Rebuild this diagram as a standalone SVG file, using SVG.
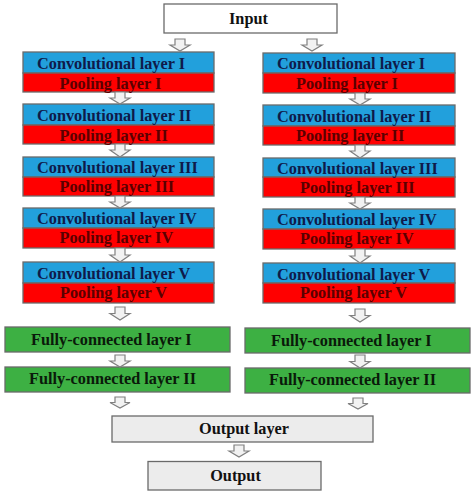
<svg xmlns="http://www.w3.org/2000/svg" width="474" height="498" viewBox="0 0 474 498">
<style>
  text { font-family: "Liberation Serif", "Times New Roman", serif; font-weight: bold; font-size: 16.3px; }
  .box { stroke: #6a6a6a; stroke-width: 1.3; }
  .conv { fill: #22a0dc; }
  .pool { fill: #ff0000; }
  .fc { fill: #3db043; }
  .gray { fill: #ececec; }
  .white { fill: #ffffff; }
  .tconv { fill: #0f1a4a; }
  .tpool { fill: #5a0000; }
  .tfc { fill: #0a1a0a; }
  .tdark { fill: #111111; }
  .mid { text-anchor: middle; }
  .arrow { fill: #f2f2f2; stroke: #808080; stroke-width: 1.2; stroke-linejoin: miter; }
</style>
<rect width="474" height="498" fill="#ffffff"/>

<g id="input">
  <rect class="box white" x="164" y="4" width="173" height="29"/>
  <text class="tdark mid" x="248.5" y="24">Input</text>
</g>

<g id="left-block-1">
  <rect class="box conv" x="23" y="52" width="191" height="21"/>
  <rect class="box pool" x="23" y="73" width="191" height="19"/>
  <text class="tconv" x="37" y="68.5">Convolutional layer I</text>
  <text class="tpool" x="59.5" y="88.5">Pooling layer I</text>
</g>
<g id="left-block-2">
  <rect class="box conv" x="23" y="104" width="191" height="21"/>
  <rect class="box pool" x="23" y="125" width="191" height="19"/>
  <text class="tconv" x="37" y="120.5">Convolutional layer II</text>
  <text class="tpool" x="59.5" y="140.5">Pooling layer II</text>
</g>
<g id="left-block-3">
  <rect class="box conv" x="23" y="157" width="191" height="20"/>
  <rect class="box pool" x="23" y="177" width="191" height="19"/>
  <text class="tconv" x="37" y="173.3">Convolutional layer III</text>
  <text class="tpool" x="59.5" y="191.7">Pooling layer III</text>
</g>
<g id="left-block-4">
  <rect class="box conv" x="23" y="208" width="191" height="20"/>
  <rect class="box pool" x="23" y="228" width="191" height="20"/>
  <text class="tconv" x="37" y="224.3">Convolutional layer IV</text>
  <text class="tpool" x="59.5" y="243">Pooling layer IV</text>
</g>
<g id="left-block-5">
  <rect class="box conv" x="23" y="262" width="191" height="21"/>
  <rect class="box pool" x="23" y="283" width="191" height="20"/>
  <text class="tconv" x="37" y="279">Convolutional layer V</text>
  <text class="tpool" x="60" y="297.5">Pooling layer V</text>
</g>

<g id="right-block-1">
  <rect class="box conv" x="263" y="53" width="192" height="20"/>
  <rect class="box pool" x="263" y="73" width="192" height="20"/>
  <text class="tconv" x="277" y="69">Convolutional layer I</text>
  <text class="tpool" x="296" y="89">Pooling layer I</text>
</g>
<g id="right-block-2">
  <rect class="box conv" x="263" y="105" width="192" height="21"/>
  <rect class="box pool" x="263" y="126" width="192" height="19"/>
  <text class="tconv" x="277" y="121.5">Convolutional layer II</text>
  <text class="tpool" x="296" y="141">Pooling layer II</text>
</g>
<g id="right-block-3">
  <rect class="box conv" x="263" y="158" width="192" height="19"/>
  <rect class="box pool" x="263" y="177" width="192" height="20"/>
  <text class="tconv" x="277" y="174">Convolutional layer III</text>
  <text class="tpool" x="300" y="192.5">Pooling layer III</text>
</g>
<g id="right-block-4">
  <rect class="box conv" x="263" y="209" width="192" height="20"/>
  <rect class="box pool" x="263" y="229" width="192" height="20"/>
  <text class="tconv" x="277" y="225">Convolutional layer IV</text>
  <text class="tpool" x="300" y="244">Pooling layer IV</text>
</g>
<g id="right-block-5">
  <rect class="box conv" x="263" y="263" width="192" height="20"/>
  <rect class="box pool" x="263" y="283" width="192" height="20"/>
  <text class="tconv" x="277" y="279.5">Convolutional layer V</text>
  <text class="tpool" x="300" y="298">Pooling layer V</text>
</g>

<g id="left-fc-1">
  <rect class="box fc" x="5" y="327" width="225" height="25"/>
  <text class="tfc" x="31" y="345">Fully-connected layer I</text>
</g>
<g id="left-fc-2">
  <rect class="box fc" x="5" y="367" width="225" height="25"/>
  <text class="tfc" x="29" y="383.5">Fully-connected layer II</text>
</g>
<g id="right-fc-1">
  <rect class="box fc" x="245" y="328" width="225" height="25"/>
  <text class="tfc" x="271" y="346">Fully-connected layer I</text>
</g>
<g id="right-fc-2">
  <rect class="box fc" x="245" y="368" width="225" height="25"/>
  <text class="tfc" x="269" y="384.5">Fully-connected layer II</text>
</g>

<g id="output-layer">
  <rect class="box gray" x="112" y="416" width="261" height="26"/>
  <text class="tdark mid" x="244" y="433.5">Output layer</text>
</g>
<g id="output">
  <rect class="box gray" x="148" y="461.5" width="173" height="28.5"/>
  <text class="tdark mid" x="235.5" y="480.5">Output</text>
</g>

<g id="connectors">
  <path class="arrow" d="M175,39 H185 V45 H190 L180,51 L170,45 H175 Z"/>
  <path class="arrow" d="M307,39 H317 V45 H322 L312,51 L302,45 H307 Z"/>

  <path class="arrow" d="M115,92 H125 V98 H130 L120,104 L110,98 H115 Z"/>
  <path class="arrow" d="M115,144 H125 V150 H130 L120,157 L110,150 H115 Z"/>
  <path class="arrow" d="M115,196 H125 V202 H130 L120,208 L110,202 H115 Z"/>
  <path class="arrow" d="M115,248 H125 V255 H130 L120,262 L110,255 H115 Z"/>

  <path class="arrow" d="M355,93 H365 V99 H370 L360,105 L350,99 H355 Z"/>
  <path class="arrow" d="M355,145 H365 V151 H370 L360,158 L350,151 H355 Z"/>
  <path class="arrow" d="M355,197 H365 V203 H370 L360,209 L350,203 H355 Z"/>
  <path class="arrow" d="M355,249 H365 V256 H370 L360,263 L350,256 H355 Z"/>

  <path class="arrow" d="M115,307 H125 V313.5 H130 L120,320 L110,313.5 H115 Z"/>
  <path class="arrow" d="M115,355 H125 V361 H130 L120,367 L110,361 H115 Z"/>
  <path class="arrow" d="M115,397 H125 V402.5 H130 L120,408 L110,402.5 H115 Z"/>

  <path class="arrow" d="M355,309 H365 V315.5 H370 L360,322 L350,315.5 H355 Z"/>
  <path class="arrow" d="M355,355 H365 V361.5 H370 L360,368 L350,361.5 H355 Z"/>
  <path class="arrow" d="M353,398 H363 V403.5 H368 L358,409 L348,403.5 H353 Z"/>

  <path class="arrow" d="M234,445 H244 V451 H249 L239,457 L229,451 H234 Z"/>
</g>
</svg>
